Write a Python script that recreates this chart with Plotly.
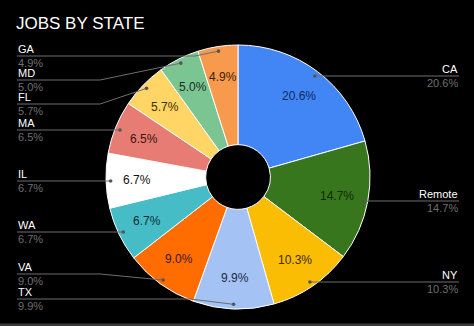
import math
import plotly.graph_objects as go

# ---- data ----
states = ["CA", "Remote", "NY", "TX", "VA", "WA", "IL", "MA", "FL", "MD", "GA"]
shares = [20.6, 14.7, 10.3, 9.9, 9.0, 6.7, 6.7, 6.5, 5.7, 5.0, 4.9]

# ---- styling ----
FONT = "Liberation Sans, Arial, sans-serif"
slice_colors = ["#4285F4", "#38761D", "#FBBC04", "#A4C2F4", "#FF6D01", "#46BDC6",
                "#FFFFFF", "#E67C73", "#FFD666", "#7BC592", "#F79A4E"]
text_colors = ["#0c2a63", "#0f2a07", "#3d2b00", "#1c2a45", "#3f1700", "#0b2f33",
               "#111111", "#3c1512", "#3b2f00", "#14301c", "#3f2000"]

W, H = 474, 326
CX, CY, R = 238, 177, 132          # pie centre / radius in pixels
DOT_R = 0.965 * R                    # radius where leader lines start
VALUE_R = 0.765 * R                  # radius of the in-slice value labels

# label rows: side, y of the underline (px), x of the elbow (px, None = straight)
label_rows = {
    "CA":     ("right", 76, None),
    "Remote": ("right", 201, None),
    "NY":     ("right", 282, None),
    "TX":     ("left", 299, 190),
    "VA":     ("left", 274, 100),
    "WA":     ("left", 232, None),
    "IL":     ("left", 181, None),
    "MA":     ("left", 130, None),
    "FL":     ("left", 104, 100),
    "MD":     ("left", 80, 100),
    "GA":     ("left", 56, 195),
}
LEFT_X, RIGHT_X = 17, 459


def px(x):
    return x / W


def py(y):
    return 1 - y / H


fig = go.Figure(go.Pie(
    labels=states,
    values=shares,
    textinfo="none",
    marker=dict(colors=slice_colors, line=dict(color="#FFFFFF", width=1)),
    hole=0.245,
    sort=False,
    direction="clockwise",
    rotation=0,
    hoverinfo="skip",
    showlegend=False,
    domain=dict(x=[px(CX - R), px(CX + R)], y=[py(CY + R), py(CY - R)]),
))

shapes = []
annotations = []
total = sum(shares)
cum = 0.0
for name, val, tcol in zip(states, shares, text_colors):
    mid = (cum + val / 2) / total * 2 * math.pi
    cum += val

    # value printed inside the slice
    vx = CX + VALUE_R * math.sin(mid)
    vy = CY - VALUE_R * math.cos(mid)
    annotations.append(dict(x=px(vx), y=py(vy), xref="paper", yref="paper",
                            text=f"{val:.1f}%", showarrow=False,
                            xanchor="center", yanchor="middle",
                            font=dict(family=FONT, size=12, color=tcol)))

    # leader line from the slice edge to the side label
    dx = CX + DOT_R * math.sin(mid)
    dy = CY - DOT_R * math.cos(mid)
    side, ly, elbow = label_rows[name]
    end_x = LEFT_X if side == "left" else RIGHT_X
    if elbow is None:
        dot_y = ly
        pts = [(dx, ly), (end_x, ly)]
    else:
        dot_y = dy
        pts = [(dx, dy), (elbow, ly), (end_x, ly)]
    path = "M " + " L ".join(f"{px(a):.5f},{py(b):.5f}" for a, b in pts)
    shapes.append(dict(type="path", xref="paper", yref="paper", path=path,
                       line=dict(color="#6e6e6e", width=1)))
    rr = 1.8
    shapes.append(dict(type="circle", xref="paper", yref="paper",
                       x0=px(dx - rr), x1=px(dx + rr), y0=py(dot_y + rr), y1=py(dot_y - rr),
                       fillcolor="#555555", line=dict(width=0)))

    anchor = "left" if side == "left" else "right"
    annotations.append(dict(x=px(end_x), y=py(ly - 7), xref="paper", yref="paper",
                            text=name, showarrow=False, xanchor=anchor, yanchor="middle",
                            borderpad=0,
                            font=dict(family=FONT, size=11, color="#FFFFFF")))
    annotations.append(dict(x=px(end_x), y=py(ly + 7), xref="paper", yref="paper",
                            text=f"{val:.1f}%", showarrow=False, xanchor=anchor, yanchor="middle",
                            borderpad=0,
                            font=dict(family=FONT, size=11, color="#6f6f6f")))

# thin grey strip along the bottom edge
shapes.append(dict(type="rect", xref="paper", yref="paper", x0=0, x1=1, y0=0, y1=py(H - 2.5),
                   fillcolor="#3a3a3a", line=dict(width=0), layer="below"))

fig.update_layout(
    width=W, height=H,
    margin=dict(l=0, r=0, t=0, b=0),
    paper_bgcolor="#000000",
    plot_bgcolor="#000000",
    title=dict(text="JOBS BY STATE", x=px(16), y=py(23), xanchor="left", yanchor="middle",
               font=dict(family=FONT, size=17, color="#FFFFFF")),
    shapes=shapes,
    annotations=annotations,
)

fig.write_html("out.html")
